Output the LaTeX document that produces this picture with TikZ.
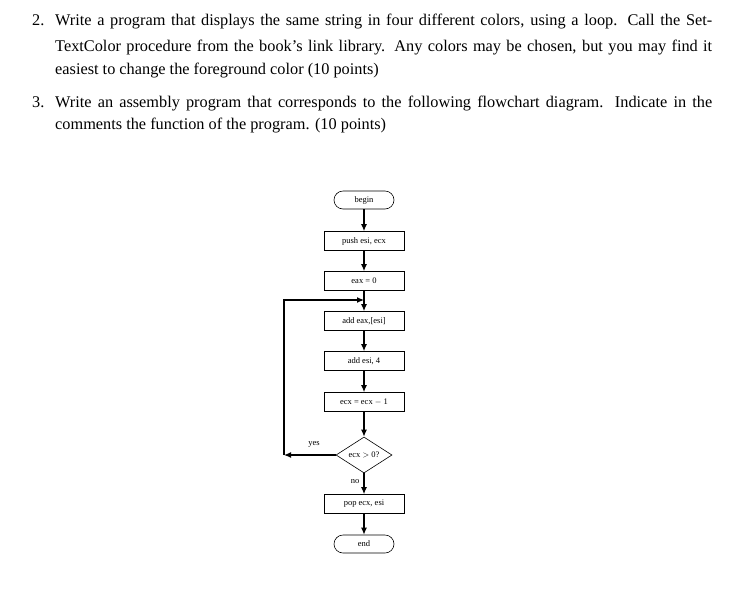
\documentclass[tikz,border=0pt]{standalone}
\usepackage{fontspec}
\setmainfont{Liberation Serif}
\usetikzlibrary{shapes.geometric,arrows.meta}
\begin{document}
\begin{tikzpicture}[x=1pt,y=-1pt,
  txt/.style={anchor=base west,inner sep=0pt,font=\fontsize{16.3}{19}\selectfont},
  box/.style={draw,semithick,minimum width=80pt,minimum height=19pt,inner sep=0pt,font=\fontsize{8.5}{10}\selectfont},
  term/.style={draw,semithick,rounded corners=9pt,minimum width=60pt,minimum height=18pt,inner sep=0pt,font=\fontsize{8.5}{10}\selectfont},
  dec/.style={draw,semithick,diamond,aspect=1.55,minimum width=56pt,minimum height=36pt,inner sep=0pt,font=\fontsize{8.5}{10}\selectfont},
  lab/.style={inner sep=0pt,font=\fontsize{8.5}{10}\selectfont},
  arr/.style={very thick,-{Latex[length=7pt,width=6pt]}}]
\useasboundingbox (0,0) rectangle (739,606);
\fill[white] (0,0) rectangle (739,606);
\node[txt] (n2) at (32,25) {2.};
\node[txt] (l1) at (55,25) {\makebox[657pt][s]{Write a program that displays the same string in four different colors, using a loop. Call the Set-}};
\node[txt] (l2) at (55,51) {\makebox[657pt][s]{TextColor procedure from the book’s link library. Any colors may be chosen, but you may find it}};
\node[txt] (l3) at (55,74) {easiest to change the foreground color (10 points)};
\node[txt] (n3) at (32,107) {3.};
\node[txt] (l4) at (55,107) {\makebox[657pt][s]{Write an assembly program that corresponds to the following flowchart diagram. Indicate in the}};
\node[txt] (l5) at (55,129) {comments the function of the program. (10 points)};

\node[term] (begin) at (364,200) {begin};
\node[box] (push) at (364,241) {push esi, ecx};
\node[box] (eax) at (364,281) {eax = 0};
\node[box] (add1) at (364,321) {add eax,[esi]};
\node[box] (add2) at (364,361) {add esi, 4};
\node[box] (dec) at (364,402) {ecx = ecx $-$ 1};
\node[dec] (cond) at (364,455) {ecx $>$ 0?};
\node[box] (pop) at (364,504) {pop ecx, esi};
\node[term] (end) at (364,544) {end};
\coordinate (join) at (364,300);
\coordinate (left) at (284,455);
\coordinate (lt) at (284,300);

\draw[arr] (begin) -- (push);
\draw[arr] (push) -- (eax);
\draw[very thick] (eax) -- (join);
\draw[arr] (join) -- (add1);
\draw[arr] (add1) -- (add2);
\draw[arr] (add2) -- (dec);
\draw[arr] (dec) -- (cond);
\draw[arr] (cond) -- (pop);
\draw[arr] (pop) -- (end);
\draw[arr] (cond.west) -- (left);
\draw[arr] (left) -- (lt) -- (join);
\node[lab] (yes) at (314,444) {yes};
\node[lab] (no) at (355,482) {no};
\end{tikzpicture}
\end{document}
